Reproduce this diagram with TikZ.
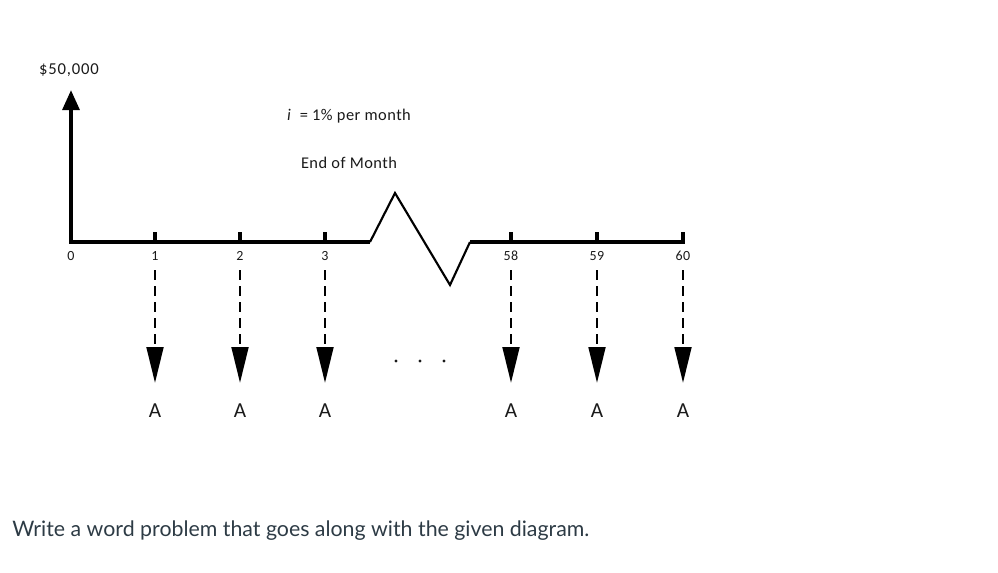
\documentclass[tikz,border=0pt]{standalone}
\usepackage{fontspec}
\setmainfont{Carlito}
\newfontfamily\latofont{Lato}
\usetikzlibrary{arrows.meta}
\definecolor{qtext}{HTML}{2D3B45}
\definecolor{dtext}{HTML}{1A1A1A}
\tikzset{
  thickline/.style={line width=3pt, line join=miter},
  zig/.style={line width=1.6pt, line join=miter},
  tickmark/.style={line width=3pt},
  paydown/.style={line width=2.2pt, dash pattern=on 7.5pt off 4.5pt,
    -{Triangle[length=27pt,width=12.5pt]}},
  tlabel/.style={font=\fontsize{10.5}{11}\selectfont\addfontfeature{LetterSpace=3}, text=dtext, inner sep=0pt},
  alabel/.style={font=\fontsize{16}{18}\selectfont, text=dtext, inner sep=0pt},
  mlabel/.style={font=\fontsize{12.3}{14}\selectfont\addfontfeature{LetterSpace=3}, text=dtext, inner sep=0pt},
}
\begin{document}
\begin{tikzpicture}[x=0.75pt,y=-0.75pt]
\useasboundingbox (0,0) rectangle (998,572);
% baseline and receipt arrow
\coordinate (o) at (71,242);
\coordinate (top) at (71,90);
\coordinate (z0) at (370,242);
\coordinate (z1) at (395,193);
\coordinate (z2) at (450,285);
\coordinate (z3) at (470,242);
\coordinate (end) at (683,242);
\coordinate (endtop) at (683,232);
\draw[thickline, -{Triangle[length=15pt,width=12.5pt]}] (z0) -- (o) -- (top);
\draw[zig] (z0) -- (z1) -- (z2) -- (z3);
\draw[thickline] (z3) -- (end) -- (endtop);
% ticks
\foreach \n/\x in {1/155,2/240,3/325,58/511,59/597} {
  \coordinate (tb\n) at (\x,242);
  \coordinate (tt\n) at (\x,232);
  \draw[tickmark] (tb\n) -- (tt\n);
}
% tick labels
\node[tlabel] (l0) at (71,256) {0};
\foreach \n/\x in {1/155,2/240,3/325,58/511,59/597,60/683} {
  \node[tlabel] (l\n) at (\x,256) {\n};
  \coordinate (s\n) at (\x,270);
  \coordinate (e\n) at (\x,383);
  \draw[paydown] (s\n) -- (e\n);
  \node[alabel] (a\n) at (\x,411) {A};
}
% dots
\foreach \x/\k in {396/1,420/2,444/3} {
  \node[fill=dtext, inner sep=0pt, minimum size=2.4pt, circle] (dot\k) at (\x,361) {};
}
% texts
\node[font=\fontsize{12.5}{14}\selectfont\addfontfeature{LetterSpace=5}, text=dtext, inner sep=0pt] (p) at (69,70) {\$50,000};
\node[mlabel] (rate) at (349,116) {\textit{i} \ = 1\% per month};
\node[mlabel] (eom) at (349,163) {End of Month};
\node[font=\latofont\fontsize{16}{18}\selectfont, text=qtext, inner sep=0pt, anchor=west] (q) at (12,531) {Write a word problem that goes along with the given diagram.};
\end{tikzpicture}
\end{document}
